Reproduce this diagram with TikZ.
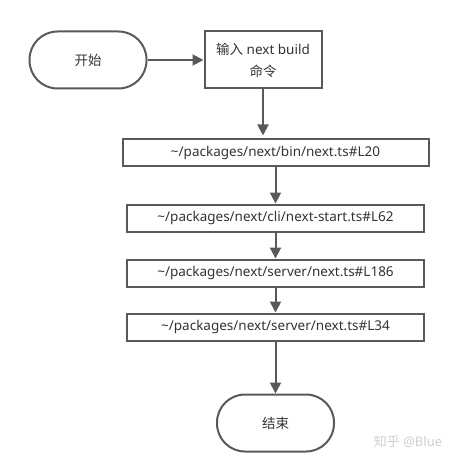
\documentclass[tikz,border=0pt]{standalone}
\usepackage{fontspec}
\setmainfont{Noto Sans}
\newfontfamily\cjk{Noto Sans CJK SC}
\usetikzlibrary{arrows.meta}
\definecolor{lineg}{HTML}{595959}
\definecolor{textg}{HTML}{333333}
\definecolor{wmark}{HTML}{CFCFCF}
\begin{document}
\begin{tikzpicture}[x=1pt,y=-1pt,
  base/.style={draw=lineg, line width=2pt, text=textg, inner sep=0pt,
    font=\fontsize{13.5}{16}\selectfont},
  term/.style={base, rectangle, rounded corners=28pt, minimum width=117pt, minimum height=57pt},
  proc/.style={base, rectangle, minimum width=117pt, minimum height=57pt, align=center},
  path/.style={base, rectangle, minimum height=27pt},
  conn/.style={draw=lineg, line width=2pt, -{Triangle[length=11pt,width=11pt]}}
]
\useasboundingbox (0,0) rectangle (455,462);
\node[term] (start) at (88,60) {\cjk 开始};
\node[proc] (input) at (263,60) {\cjk 输入\rm{} next build\\[6pt]\cjk 命令};
\node[path, minimum width=306pt] (b1) at (275.5,153) {\textasciitilde/packages/next/bin/next.ts\#L20};
\node[path, minimum width=297pt] (b2) at (275.5,218) {\textasciitilde/packages/next/cli/next-start.ts\#L62};
\node[path, minimum width=297pt] (b3) at (275.5,273) {\textasciitilde/packages/next/server/next.ts\#L186};
\node[path, minimum width=297pt] (b4) at (275.5,327) {\textasciitilde/packages/next/server/next.ts\#L34};
\node[term] (end) at (275.5,423) {\cjk 结束};
\node[text=wmark, inner sep=0pt, font=\fontsize{13}{15}\selectfont] (wm) at (408,442) {\cjk 知乎\rm{} @Blue};
\draw[conn] (start.east) -- (input.west);
\draw[conn, shorten >=3pt] (input.south) -- (input.south |- b1.north);
\draw[conn] (b1.south) -- (b2.north);
\draw[conn] (b2.south) -- (b3.north);
\draw[conn] (b3.south) -- (b4.north);
\draw[conn] (b4.south) -- (end.north);
\end{tikzpicture}
\end{document}
